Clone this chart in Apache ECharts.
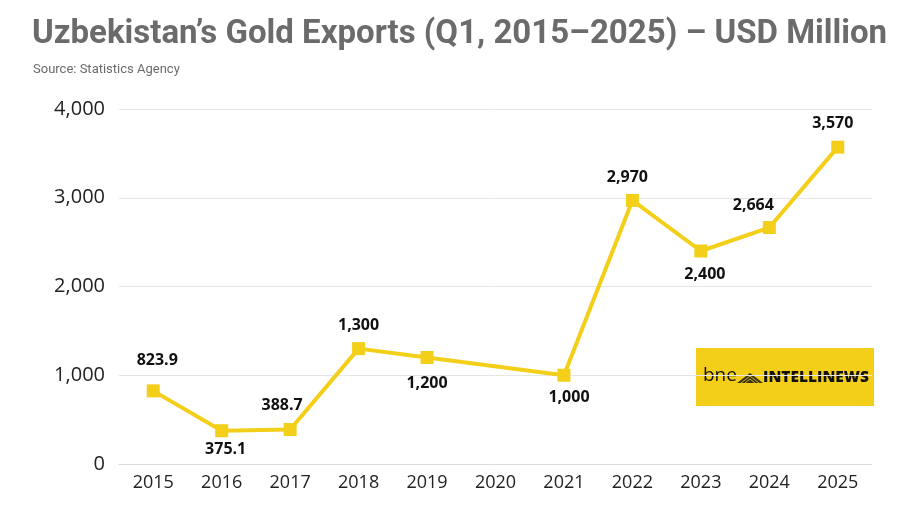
<!DOCTYPE html>
<html>
<head>
<meta charset="utf-8">
<script src="https://cdn.jsdelivr.net/npm/echarts@6/dist/echarts.min.js"></script>
<style>
  html, body { margin: 0; padding: 0; background: #ffffff; }
  #chart { width: 900px; height: 510px; }
</style>
</head>
<body>
<div id="chart"></div>
<script>
// ---- Data ----
const years = ['2015','2016','2017','2018','2019','2020','2021','2022','2023','2024','2025'];
const exportsUsdMn = [823.9, 375.1, 388.7, 1300, 1200, null, 1000, 2970, 2400, 2664, 3570];
const valueLabels = ['823.9','375.1','388.7','1,300','1,200','','1,000','2,970','2,400','2,664','3,570'];
const yTicks = [0, 1000, 2000, 3000, 4000];

// ---- Label placement (style, not data) ----
const labelPlacement = [
  { position: 'top', distance: 16, offset: [4, 0] },
  { position: 'bottom', distance: 4, offset: [4, 0] },
  { position: 'top', distance: 10, offset: [-8, 0] },
  { position: 'top', distance: 9, offset: [0, 0] },
  { position: 'bottom', distance: 11, offset: [0, 0] },
  { position: 'top', distance: 0, offset: [0, 0] },
  { position: 'bottom', distance: 8, offset: [5, 0] },
  { position: 'top', distance: 8, offset: [-5, 0] },
  { position: 'bottom', distance: 9, offset: [4, 0] },
  { position: 'top', distance: 8, offset: [-16, 0] },
  { position: 'top', distance: 9, offset: [-5, 0] }
];

const gold = '#F4CF1A';

const seriesData = exportsUsdMn.map((v, i) => ({
  value: v,
  label: Object.assign({ show: v !== null, formatter: valueLabels[i] }, labelPlacement[i])
}));

const chart = echarts.init(document.getElementById('chart'), null, { renderer: 'canvas' });
chart.setOption({
  backgroundColor: '#ffffff',
  animation: false,
  title: [
    {
      text: 'Uzbekistan’s Gold Exports (Q1, 2015–2025) – USD Million',
      left: 27, top: 13,
      textStyle: { fontFamily: 'Roboto', fontWeight: 'bold', fontSize: 33, color: '#6b6b6b' }
    },
    {
      text: 'Source: Statistics Agency',
      left: 28, top: 58,
      textStyle: { fontFamily: 'Roboto', fontWeight: 'normal', fontSize: 13, color: '#6b6b6b' }
    }
  ],
  grid: { left: 119, right: 28, top: 109, bottom: 46, containLabel: false },
  xAxis: {
    type: 'category',
    data: years,
    boundaryGap: true,
    axisLine: { show: true, lineStyle: { color: '#dcdcdc', width: 1 } },
    axisTick: { show: false },
    axisLabel: { color: '#222', fontFamily: 'Open Sans', fontSize: 18, margin: 10 }
  },
  yAxis: {
    type: 'value',
    min: yTicks[0],
    max: yTicks[yTicks.length - 1],
    interval: yTicks[1] - yTicks[0],
    axisLine: { show: false },
    axisTick: { show: false },
    splitLine: { lineStyle: { color: '#e6e6e6', width: 1 } },
    axisLabel: {
      color: '#222', fontFamily: 'Open Sans', fontSize: 20, margin: 14,
      formatter: v => v.toLocaleString('en-US')
    }
  },
  series: [{
    type: 'line',
    data: seriesData,
    connectNulls: true,
    symbol: 'rect',
    symbolSize: 13,
    lineStyle: { color: gold, width: 4 },
    itemStyle: { color: gold },
    label: {
      color: '#111', fontFamily: 'Open Sans', fontWeight: 'bold', fontSize: 16
    },
    z: 3
  }],
  graphic: [
    {
      type: 'group', left: 696, top: 348,
      children: [
        { type: 'rect', shape: { x: 0, y: 0, width: 178, height: 58 }, style: { fill: gold } },
        { type: 'text', x: 7, y: 28, style: { text: 'bne', font: 'normal 19px "Open Sans"', fill: '#111', verticalAlign: 'middle' } },
        { type: 'polygon', shape: { points: [[41, 35], [54, 25], [67, 35]] }, style: { fill: '#3a3410' } },
        { type: 'polyline', shape: { points: [[45, 35], [54, 28], [63, 35]] }, style: { stroke: gold, lineWidth: 0.8, fill: null } },
        { type: 'polyline', shape: { points: [[49, 35], [54, 31], [59, 35]] }, style: { stroke: gold, lineWidth: 0.8, fill: null } },
        { type: 'text', x: 67, y: 30, style: { text: 'INTELLINEWS', font: '800 15.5px "Open Sans"', fill: '#111', verticalAlign: 'middle' } }
      ]
    }
  ]
});
</script>
</body>
</html>
